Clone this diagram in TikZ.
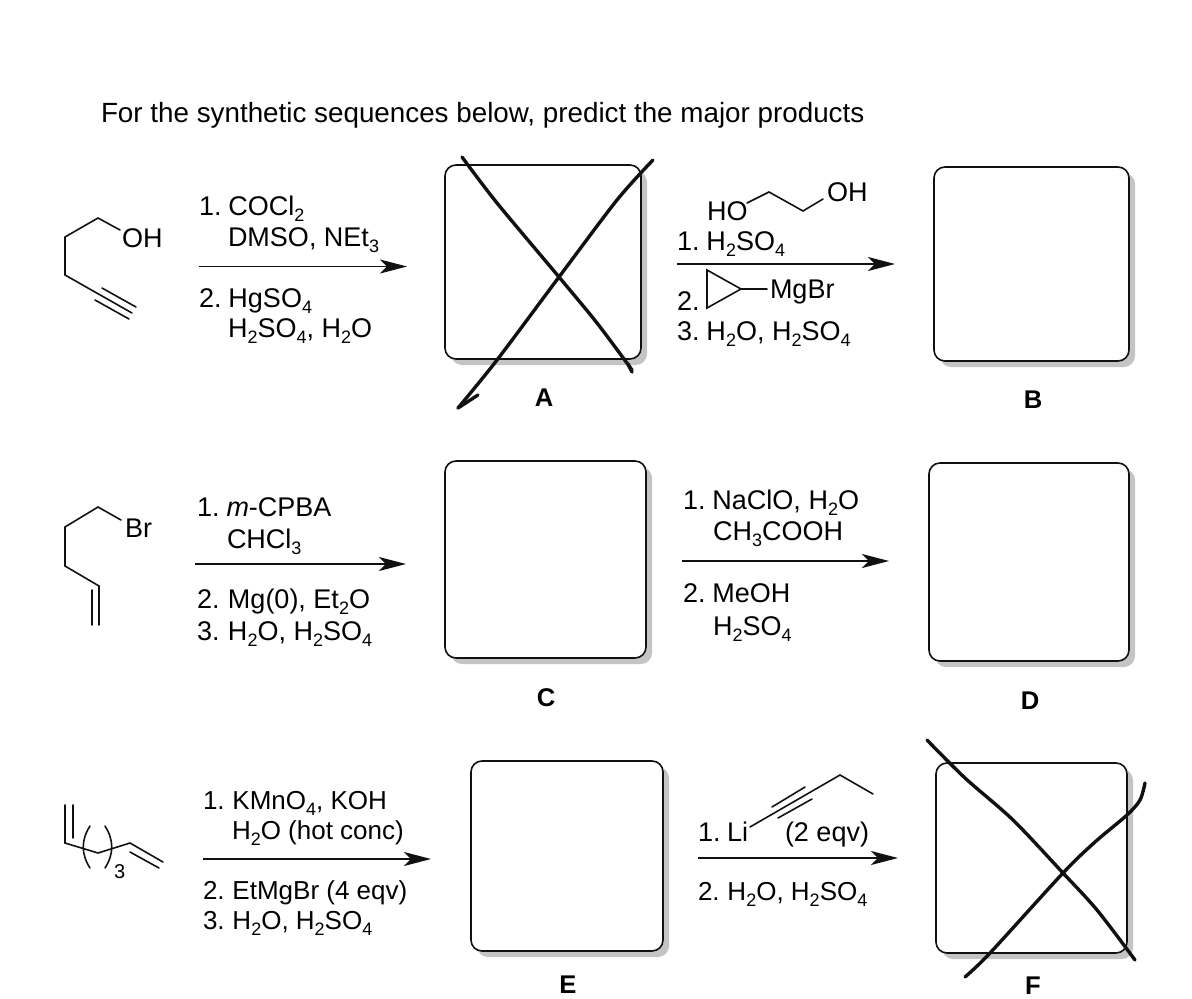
\documentclass[tikz,border=0pt]{standalone}
\usepackage{fontspec}
\setmainfont{Liberation Sans}
\usetikzlibrary{arrows.meta,shadows}
\newcommand{\sbs}[1]{\raisebox{-6pt}{\fontsize{18}{18}\selectfont #1}}
\newcommand{\nm}[1]{\makebox[29.5pt][l]{#1}}
\newcommand{\nmw}[1]{\makebox[31pt][l]{#1}}
\definecolor{shadowgrey}{HTML}{C4C4C4}
\definecolor{inkline}{HTML}{111111}
\tikzset{
  rtext/.style={anchor=base west,inner sep=0pt,outer sep=0pt,text=black,font=\fontsize{27}{30}\selectfont},
  rtextsm/.style={rtext,font=\fontsize{26}{30}\selectfont},
  tag/.style={anchor=center,inner sep=0pt,outer sep=0pt,text=black,font=\fontsize{25.6}{30}\selectfont\bfseries},
  bond/.style={draw=inkline,line width=1.6pt,line cap=round,line join=miter},
  rxnarrow/.style={draw=inkline,line width=1.8pt,-{Stealth[length=27pt,width=14pt,inset=7pt]}},
  prodbox/.style={draw=inkline,fill=white,line width=1.6pt,rounded corners=11pt,inner sep=0pt,outer sep=0pt,
    drop shadow={shadow xshift=6pt,shadow yshift=-6pt,fill=shadowgrey,opacity=1}},
  strike/.style={draw=inkline,line width=3.4pt,line cap=round,line join=round}
}
\begin{document}
\begin{tikzpicture}[x=1pt,y=-1pt]
\useasboundingbox (0,0) rectangle (1192,999);
\fill[white] (0,0) rectangle (1192,999);

\node[rtext,font=\fontsize{27.8}{30}\selectfont] (title) at (101,122) {For the synthetic sequences below, predict the major products};

% product boxes
\node[prodbox,minimum width=196pt,minimum height=194pt] (boxA) at (543,262) {};
\node[prodbox,minimum width=195pt,minimum height=194pt] (boxB) at (1031.5,264) {};
\node[prodbox,minimum width=201pt,minimum height=197pt] (boxC) at (545.5,559.5) {};
\node[prodbox,minimum width=200pt,minimum height=198pt] (boxD) at (1029,562) {};
\node[prodbox,minimum width=192pt,minimum height=190pt] (boxE) at (567,856) {};
\node[prodbox,minimum width=191pt,minimum height=190pt] (boxF) at (1031.5,858) {};
\node[tag] (tagA) at (544,398) {A};
\node[tag] (tagB) at (1033,400) {B};
\node[tag] (tagC) at (546,698) {C};
\node[tag] (tagD) at (1030,701) {D};
\node[tag] (tagE) at (568,985) {E};
\node[tag] (tagF) at (1033,986) {F};

% strikes
\draw[strike] plot[smooth,tension=0.5] coordinates {(462,157) (497,203) (559,277) (597,323) (632,370)};
\draw[strike] (628,364) -- (632,372);
\draw[strike] plot[smooth,tension=0.5] coordinates {(653,160) (617,200) (559,277) (497,360) (458,408)};
\draw[strike] (458,408) -- (478,395);
\draw[strike] plot[smooth,tension=0.5] coordinates {(927,740) (965,778) (1013,820) (1063,873) (1097,910) (1135,960)};
\draw[strike] plot[smooth,tension=0.5] coordinates {(1145,783) (1140,800) (1127,815) (1095,842) (1063,873) (990,953) (965,977)};

% substrate 1
\draw[bond] (120,230) -- (98,218) -- (65,237) -- (65,275) -- (132,313);
\draw[bond] (102,288) -- (136,307);
\draw[bond] (95,300) -- (129,319);
\node[rtext] (oh1) at (122,247) {OH};

% reaction 1
\node[rtext] (r1a) at (199,215) {\nm{1.}COCl\sbs{2}};
\node[rtext] (r1b) at (228,246) {DMSO, NEt\sbs{3}};
\node[rtext] (r1c) at (199,307) {\nm{2.}HgSO\sbs{4}};
\node[rtext] (r1d) at (228,337) {H\sbs{2}SO\sbs{4}, H\sbs{2}O};
\coordinate (a1s) at (199,266.5);
\coordinate (a1e) at (407,266.5);
\draw[rxnarrow] (a1s) -- (a1e);

% reaction 2
\node[rtext] (ho) at (707,220) {HO};
\node[rtext] (oh2) at (827,201) {OH};
\draw[bond] (747,203) -- (769,192) -- (803,211) -- (823,199);
\node[rtext] (r2a) at (677,250) {\nm{1.}H\sbs{2}SO\sbs{4}};
\coordinate (a2s) at (677,264);
\coordinate (a2e) at (895,264);
\draw[rxnarrow] (a2s) -- (a2e);
\node[rtext] (r2b) at (677,310) {2.};
\draw[bond,line join=miter] (707,270) -- (741,289) -- (707,308) -- cycle;
\draw[bond] (741,289) -- (767,289);
\node[rtext] (mgbr) at (770,298) {MgBr};
\node[rtext] (r2c) at (677,340) {\nm{3.}H\sbs{2}O, H\sbs{2}SO\sbs{4}};

% substrate 2
\draw[bond] (121,520) -- (98,507) -- (65,527) -- (65,566) -- (99,586) -- (99,625);
\draw[bond] (92,590) -- (92,625);
\node[rtext] (br) at (125,537) {Br};

% reaction 3
\node[rtext] (r3a) at (197,516) {\nm{1.}\textit{m}-CPBA};
\node[rtext] (r3b) at (227,548) {CHCl\sbs{3}};
\node[rtext] (r3c) at (197,608) {\nmw{2.}Mg(0), Et\sbs{2}O};
\node[rtext] (r3d) at (197,640) {\nmw{3.}H\sbs{2}O, H\sbs{2}SO\sbs{4}};
\coordinate (a3s) at (195,564);
\coordinate (a3e) at (406,564);
\draw[rxnarrow] (a3s) -- (a3e);

% reaction 4
\node[rtext] (r4a) at (683,509) {\nm{1.}NaClO, H\sbs{2}O};
\node[rtext] (r4b) at (713,540) {CH\sbs{3}COOH};
\node[rtext] (r4c) at (683,602) {\nm{2.}MeOH};
\node[rtext] (r4d) at (713,635) {H\sbs{2}SO\sbs{4}};
\coordinate (a4s) at (682,561);
\coordinate (a4e) at (889,561);
\draw[rxnarrow] (a4s) -- (a4e);

% substrate 3
\draw[bond] (65,805) -- (65,843) -- (98,853) -- (130,843) -- (163,862);
\draw[bond] (73,805) -- (73,838);
\draw[bond] (130,852) -- (159,868);
\draw[bond] (90,826) .. controls (81,840) and (81,854) .. (90,868);
\draw[bond] (105,826) .. controls (114,840) and (114,854) .. (105,868);
\node[rtext,font=\fontsize{20}{22}\selectfont] (three) at (114,878) {3};

% reaction 5
\node[rtextsm] (r5a) at (203,809) {\nm{1.}KMnO\sbs{4}, KOH};
\node[rtextsm] (r5b) at (232,839) {H\sbs{2}O (hot conc)};
\node[rtextsm] (r5c) at (203,899) {\nm{2.}EtMgBr (4 eqv)};
\node[rtextsm] (r5d) at (203,929) {\nm{3.}H\sbs{2}O, H\sbs{2}SO\sbs{4}};
\coordinate (a5s) at (203,859);
\coordinate (a5e) at (431,859);
\draw[rxnarrow] (a5s) -- (a5e);

% reaction 6
\node[rtext] (r6a) at (698,841) {\makebox[29pt][l]{1.}Li};
\draw[bond] (750,827) -- (840,775) -- (873,794);
\draw[bond] (772,807) -- (805,787);
\draw[bond] (778,818) -- (812,799);
\node[rtext] (r6b) at (785,841) {(2 eqv)};
\coordinate (a6s) at (698,858);
\coordinate (a6e) at (898,858);
\draw[rxnarrow] (a6s) -- (a6e);
\node[rtextsm] (r6c) at (698,900) {\nm{2.}H\sbs{2}O, H\sbs{2}SO\sbs{4}};
\end{tikzpicture}
\end{document}
